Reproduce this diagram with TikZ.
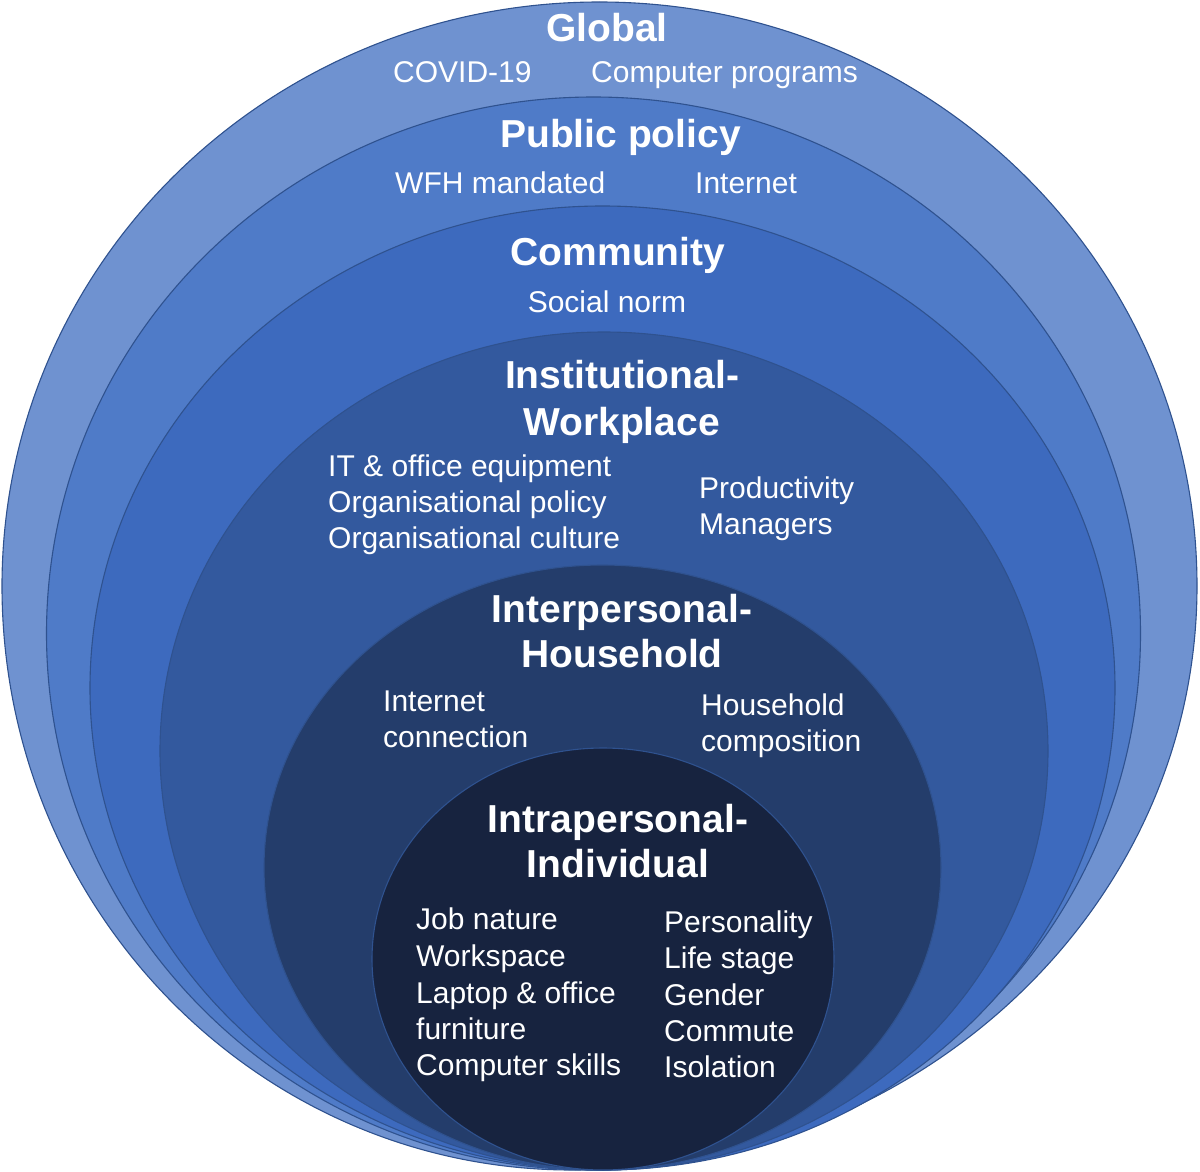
\documentclass[tikz,border=0pt]{standalone}
\usepackage{fontspec}
\setmainfont{Liberation Sans}
\definecolor{cGlobal}{HTML}{6F92D0}
\definecolor{cPolicy}{HTML}{4F7BC8}
\definecolor{cComm}{HTML}{3D6ABE}
\definecolor{cInst}{HTML}{33599E}
\definecolor{cInter}{HTML}{243D6B}
\definecolor{cIntra}{HTML}{17233F}
\definecolor{cLine}{HTML}{2F528F}
\tikzset{
  ring/.style={draw=cLine, line width=1.1pt},
  ttl/.style={text=white, inner sep=0pt, anchor=base, font=\fontsize{39}{45}\selectfont\bfseries},
  itm/.style={text=white, inner sep=0pt, anchor=base west, font=\fontsize{30}{36}\selectfont},
}
\begin{document}
\begin{tikzpicture}[x=1pt,y=-1pt]
\useasboundingbox (0,0) rectangle (1200,1172);
% rings
\draw[ring, fill=cGlobal] (1197,586) .. controls (1197,263.5) and (929.5,2) .. (599.5,2)
  .. controls (269.5,2) and (2,263.5) .. (2,586)
  .. controls (2,908.5) and (257.2,1170) .. (572,1170)
  .. controls (917.2,1170) and (1197,908.5) .. (1197,586) -- cycle;
\draw[ring, fill=cPolicy] (593.5,633.5) ellipse [x radius=547pt, y radius=536.5pt];
\draw[ring, fill=cComm] (602.5,688) ellipse [x radius=512.5pt, y radius=482pt];
\draw[ring, fill=cInst] (604,751) ellipse [x radius=444pt, y radius=419pt];
\draw[ring, fill=cInter] (602.5,867.5) ellipse [x radius=338.5pt, y radius=302.5pt];
\draw[ring, fill=cIntra] (603,959) ellipse [x radius=231pt, y radius=211pt];
% Global
\node[ttl] (tGlobal) at (607,42) {Global};
\node[itm] (gCovid) at (393,82) {COVID-19};
\node[itm] (gProg) at (591,82) {Computer programs};
% Public policy
\node[ttl] (tPolicy) at (620.5,147) {Public policy};
\node[itm] (pWFH) at (395,193) {WFH mandated};
\node[itm] (pNet) at (695,193) {Internet};
% Community
\node[ttl] (tComm) at (618,265) {Community};
\node[itm, anchor=base] (cNorm) at (607,312) {Social norm};
% Institutional
\node[ttl] (tInst1) at (622,388) {Institutional-};
\node[ttl] (tInst2) at (621.5,435) {Workplace};
\node[itm] (iIT) at (328,476) {IT \& office equipment};
\node[itm] (iPol) at (328,512) {Organisational policy};
\node[itm] (iCul) at (328,548) {Organisational culture};
\node[itm] (iProd) at (699,498) {Productivity};
\node[itm] (iMan) at (699,534) {Managers};
% Interpersonal
\node[ttl] (tInter1) at (622,622) {Interpersonal-};
\node[ttl] (tInter2) at (622,667) {Household};
\node[itm] (hNet) at (383,711) {Internet};
\node[itm] (hCon) at (383,747) {connection};
\node[itm] (hHou) at (701,715) {Household};
\node[itm] (hCom) at (701,751) {composition};
% Intrapersonal
\node[ttl] (tIntra1) at (618,832) {Intrapersonal-};
\node[ttl] (tIntra2) at (618,877) {Individual};
\node[itm] (nJob) at (416,929) {Job nature};
\node[itm] (nWork) at (416,966) {Workspace};
\node[itm] (nLap) at (416,1003) {Laptop \& office};
\node[itm] (nFur) at (416,1039) {furniture};
\node[itm] (nSkill) at (416,1075) {Computer skills};
\node[itm] (nPers) at (664,932) {Personality};
\node[itm] (nLife) at (664,968) {Life stage};
\node[itm] (nGen) at (664,1005) {Gender};
\node[itm] (nComm) at (664,1041) {Commute};
\node[itm] (nIso) at (664,1077) {Isolation};
\end{tikzpicture}
\end{document}
